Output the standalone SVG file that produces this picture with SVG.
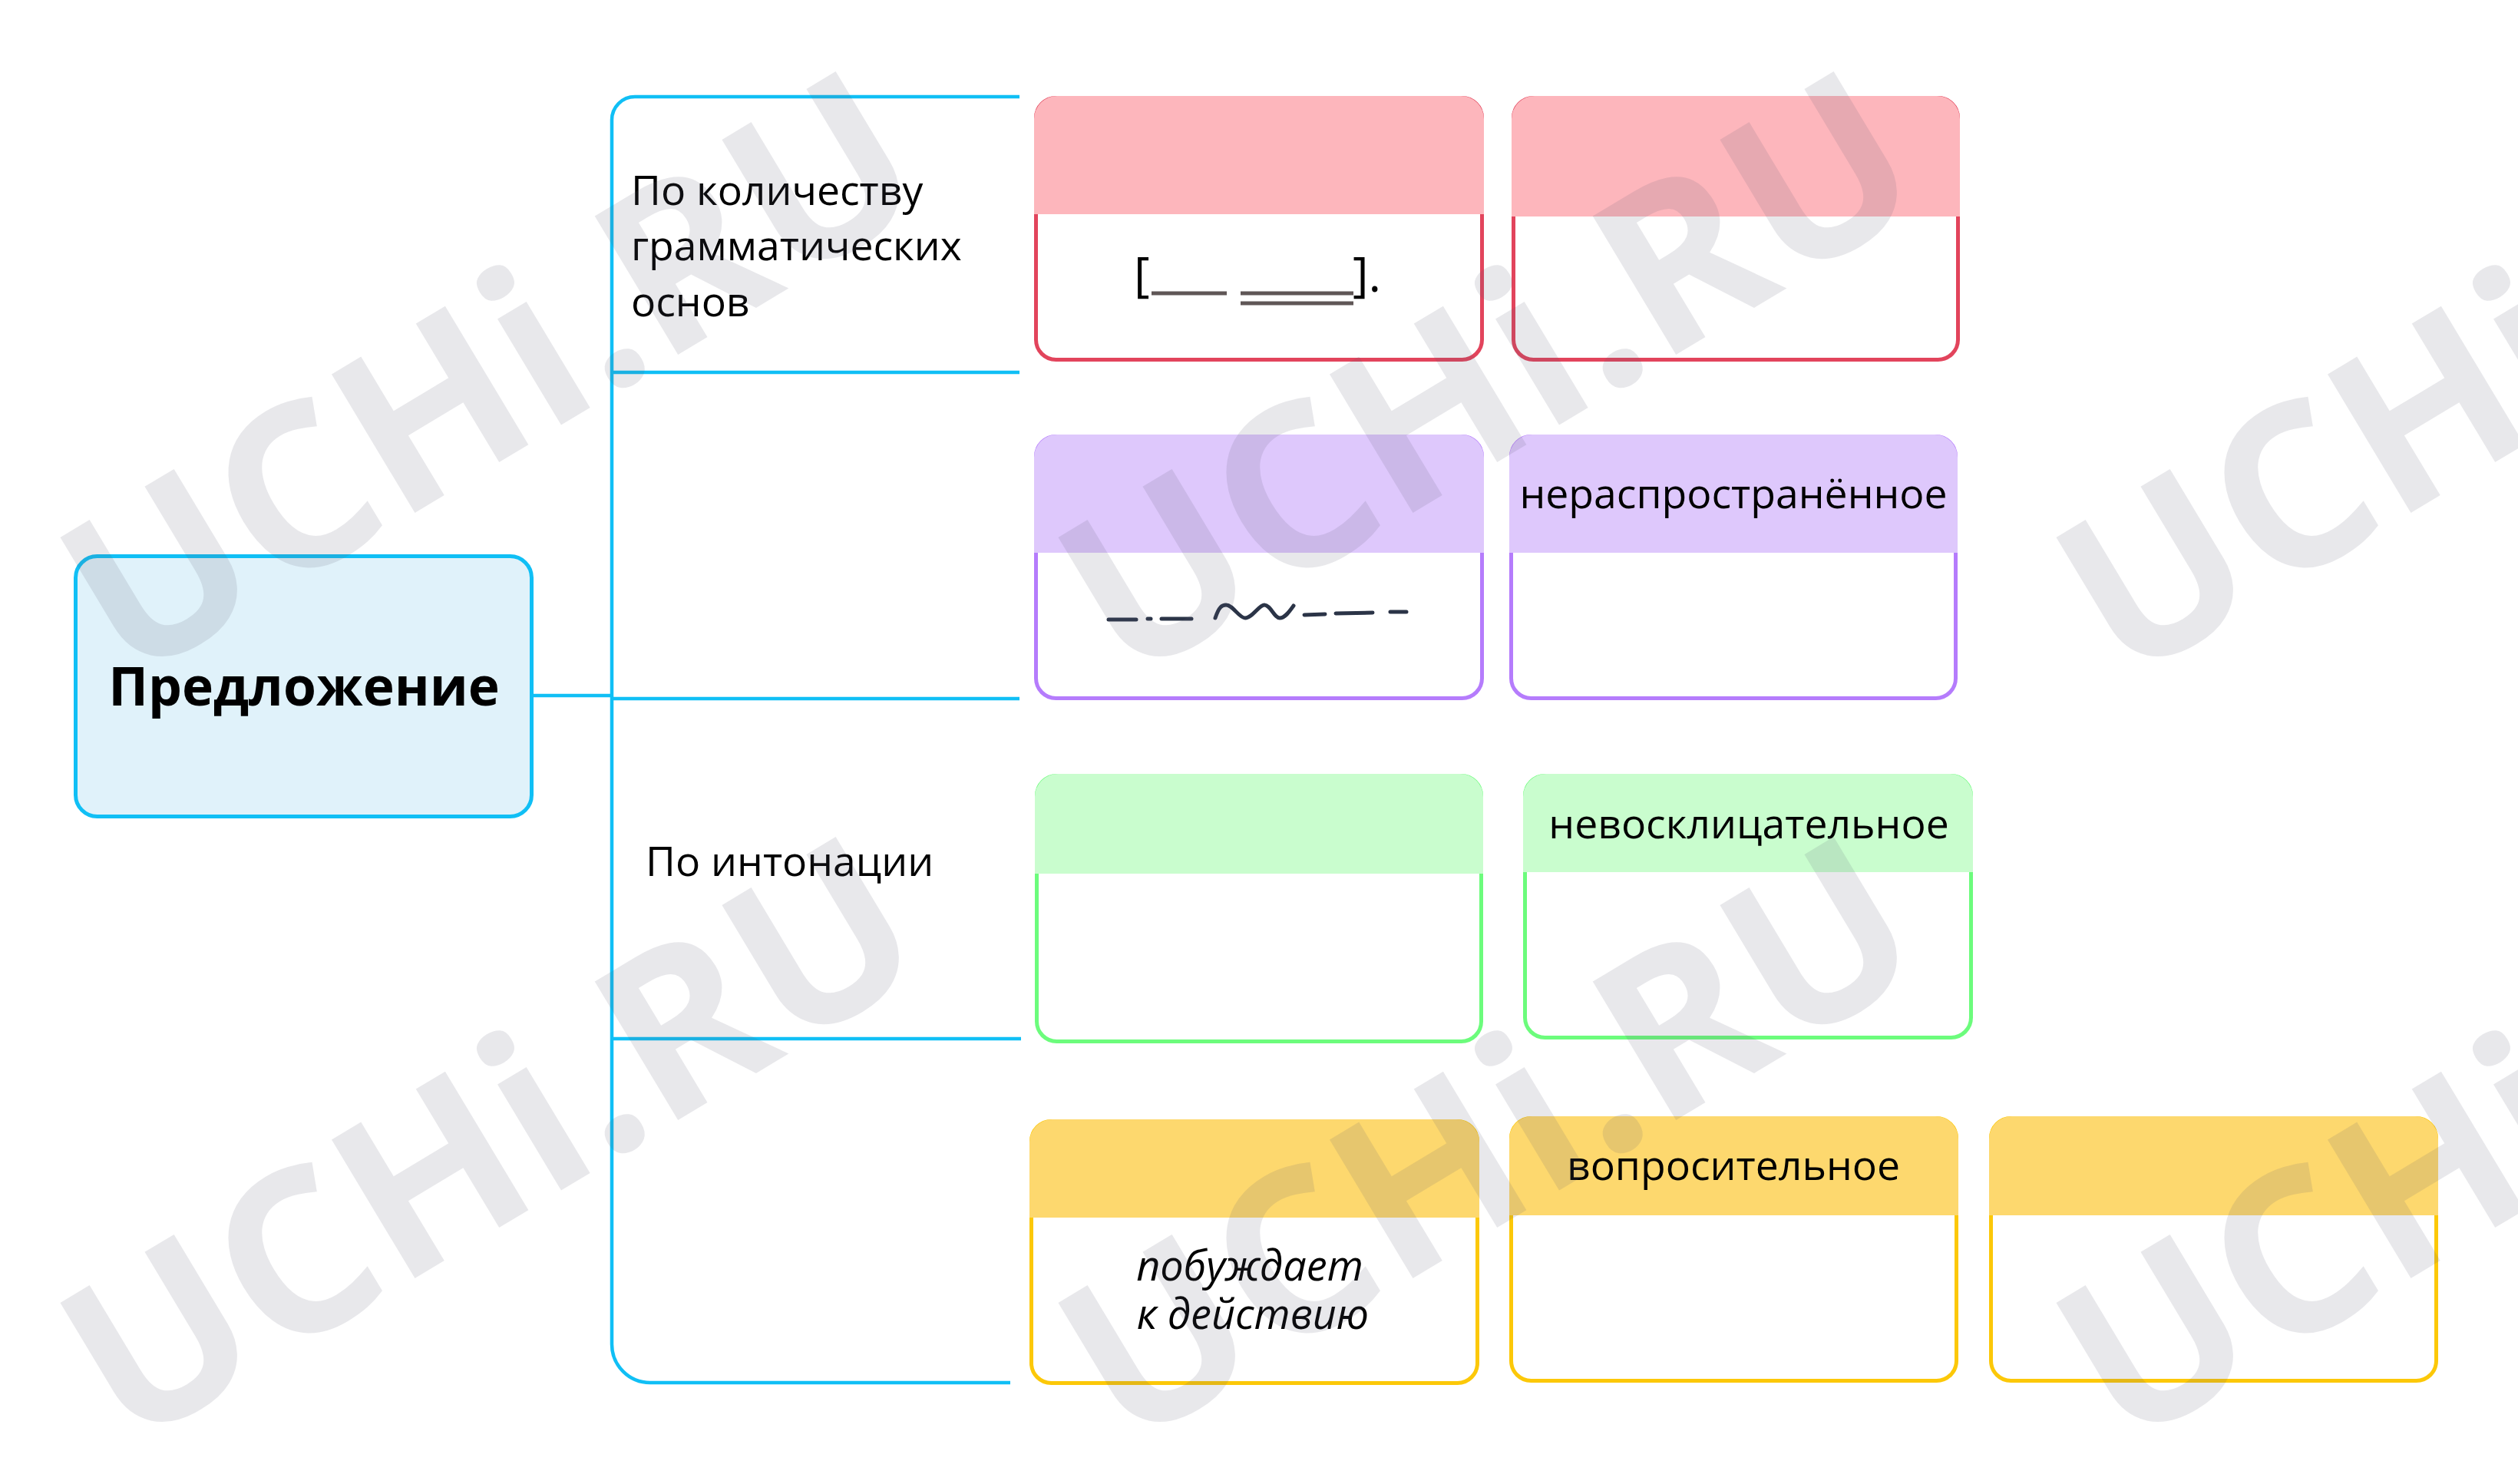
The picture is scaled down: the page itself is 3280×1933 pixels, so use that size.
<svg xmlns="http://www.w3.org/2000/svg" width="3280" height="1933" viewBox="0 0 3280 1933">
<style>
.lbl{font-family:"Open Sans","Noto Sans",sans-serif;font-size:53.5px;fill:#000}
.hdr{font-family:"Open Sans","Noto Sans",sans-serif;font-size:53.5px;fill:#000;text-anchor:middle}
.ital{font-family:"Open Sans","Noto Sans",sans-serif;font-size:54px;font-style:italic;fill:#000;text-anchor:middle}
.conn{fill:none;stroke:#10bff5;stroke-width:4.5}
.body{fill:#fff;stroke-width:5}
.pink .body{stroke:#e2445c}.pink .head{fill:#fdb6bc}
.purple .body{stroke:#b57cfc}.purple .head{fill:#dec8fc}
.green .body{stroke:#6cfc7c}.green .head{fill:#c9fdce}
.yellow .body{stroke:#fcc808}.yellow .head{fill:#fdd86e}
.sch{fill:none;stroke:#5f5656;stroke-width:5}
.dsh{fill:none;stroke:#2b3447;stroke-width:5;stroke-linecap:round;stroke-linejoin:round}
.wm{font-family:"Open Sans","Noto Sans",sans-serif;font-weight:700;font-size:295px;fill:#5c5c6e;fill-opacity:0.14;text-anchor:middle}
</style>

<g id="connectors">
<path class="conn" d="M1328,126 H827 A30,30 0 0 0 797,156 V1751 A50,50 0 0 0 847,1801 H1316"/>
<path class="conn" d="M695,906 H797"/>
<path class="conn" d="M797,485 H1328"/>
<path class="conn" d="M797,910 H1328"/>
<path class="conn" d="M797,1353 H1330"/>
</g>

<g id="node-main">
<rect x="98.5" y="724.5" width="594" height="339" rx="28" fill="#e0f2fa" stroke="#10bff5" stroke-width="5"/>
<text x="396" y="919" font-family="Open Sans, Noto Sans, sans-serif" font-weight="700" font-size="69.5" text-anchor="middle">Предложение</text>
</g>

<g id="label-count">
<text class="lbl" x="822" y="267">По количеству</text>
<text class="lbl" x="822" y="339">грамматических</text>
<text class="lbl" x="822" y="412">основ</text>
</g>
<g id="label-intonation">
<text class="lbl" x="841" y="1141">По интонации</text>
</g>

<g id="card-a" class="pink">
<rect class="body" x="1349.5" y="127.5" width="581" height="341" rx="26"/>
<path class="head" d="M1347,279 V155 A30,30 0 0 1 1377,125 H1903 A30,30 0 0 1 1933,155 V279 Z"/>
<text x="1477" y="380" font-family="Open Sans, Noto Sans, sans-serif" font-size="63">[</text>
<path class="sch" d="M1500,382 H1598 M1616,382 H1763 M1616,395 H1763"/>
<text x="1762" y="380" font-family="Open Sans, Noto Sans, sans-serif" font-size="63">].</text>
</g>
<g id="card-b" class="pink">
<rect class="body" x="1971.5" y="127.5" width="579" height="341" rx="26"/>
<path class="head" d="M1969,282 V155 A30,30 0 0 1 1999,125 H2523 A30,30 0 0 1 2553,155 V282 Z"/>
</g>

<g id="card-c" class="purple">
<rect class="body" x="1349.5" y="568.5" width="581" height="341" rx="26"/>
<path class="head" d="M1347,720 V596 A30,30 0 0 1 1377,566 H1903 A30,30 0 0 1 1933,596 V720 Z"/>
<path class="dsh" d="M1444,807 H1480 M1495,806 H1499 M1513,806 H1552 M1699,801 L1726,800 M1740,799 L1788,798 M1811,797 L1832,797"/>
<path class="dsh" d="M1583,805 C1588,790 1592,788 1597,788 C1606,788 1614,805 1622,805 C1631,805 1640,788 1647,788 C1655,788 1660,805 1667,805 C1674,805 1680,796 1685,789"/>
</g>
<g id="card-d" class="purple">
<rect class="body" x="1968.5" y="568.5" width="579" height="341" rx="26"/>
<path class="head" d="M1966,720 V596 A30,30 0 0 1 1996,566 H2520 A30,30 0 0 1 2550,596 V720 Z"/>
<text class="hdr" x="2258" y="662">нераспространённое</text>
</g>

<g id="card-e" class="green">
<rect class="body" x="1350.5" y="1010.5" width="579" height="346" rx="26"/>
<path class="head" d="M1348,1138 V1038 A30,30 0 0 1 1378,1008 H1902 A30,30 0 0 1 1932,1038 V1138 Z"/>
</g>
<g id="card-f" class="green">
<rect class="body" x="1986.5" y="1010.5" width="581" height="341" rx="26"/>
<path class="head" d="M1984,1136 V1038 A30,30 0 0 1 2014,1008 H2540 A30,30 0 0 1 2570,1038 V1136 Z"/>
<text class="hdr" x="2278" y="1092">невосклицательное</text>
</g>

<g id="card-g" class="yellow">
<rect class="body" x="1343.5" y="1460.5" width="581" height="341" rx="26"/>
<path class="head" d="M1341,1586 V1488 A30,30 0 0 1 1371,1458 H1897 A30,30 0 0 1 1927,1488 V1586 Z"/>
<text class="ital" x="1628" y="1668">побуждает</text>
<text class="ital" x="1632" y="1731">к действию</text>
</g>
<g id="card-h" class="yellow">
<rect class="body" x="1968.5" y="1456.5" width="580" height="342" rx="26"/>
<path class="head" d="M1966,1583 V1484 A30,30 0 0 1 1996,1454 H2521 A30,30 0 0 1 2551,1484 V1583 Z"/>
<text class="hdr" x="2258" y="1537">вопросительное</text>
</g>
<g id="card-i" class="yellow">
<rect class="body" x="2593.5" y="1456.5" width="580" height="342" rx="26"/>
<path class="head" d="M2591,1583 V1484 A30,30 0 0 1 2621,1454 H3146 A30,30 0 0 1 3176,1484 V1583 Z"/>
</g>

<g id="watermark">
<text class="wm" transform="translate(692,577) rotate(-31)">UCHi.RU</text>
<text class="wm" transform="translate(1992,577) rotate(-31)">UCHi.RU</text>
<text class="wm" transform="translate(3292,577) rotate(-31)">UCHi.RU</text>
<text class="wm" transform="translate(692,1574) rotate(-31)">UCHi.RU</text>
<text class="wm" transform="translate(1992,1574) rotate(-31)">UCHi.RU</text>
<text class="wm" transform="translate(3292,1574) rotate(-31)">UCHi.RU</text>
</g>
</svg>
